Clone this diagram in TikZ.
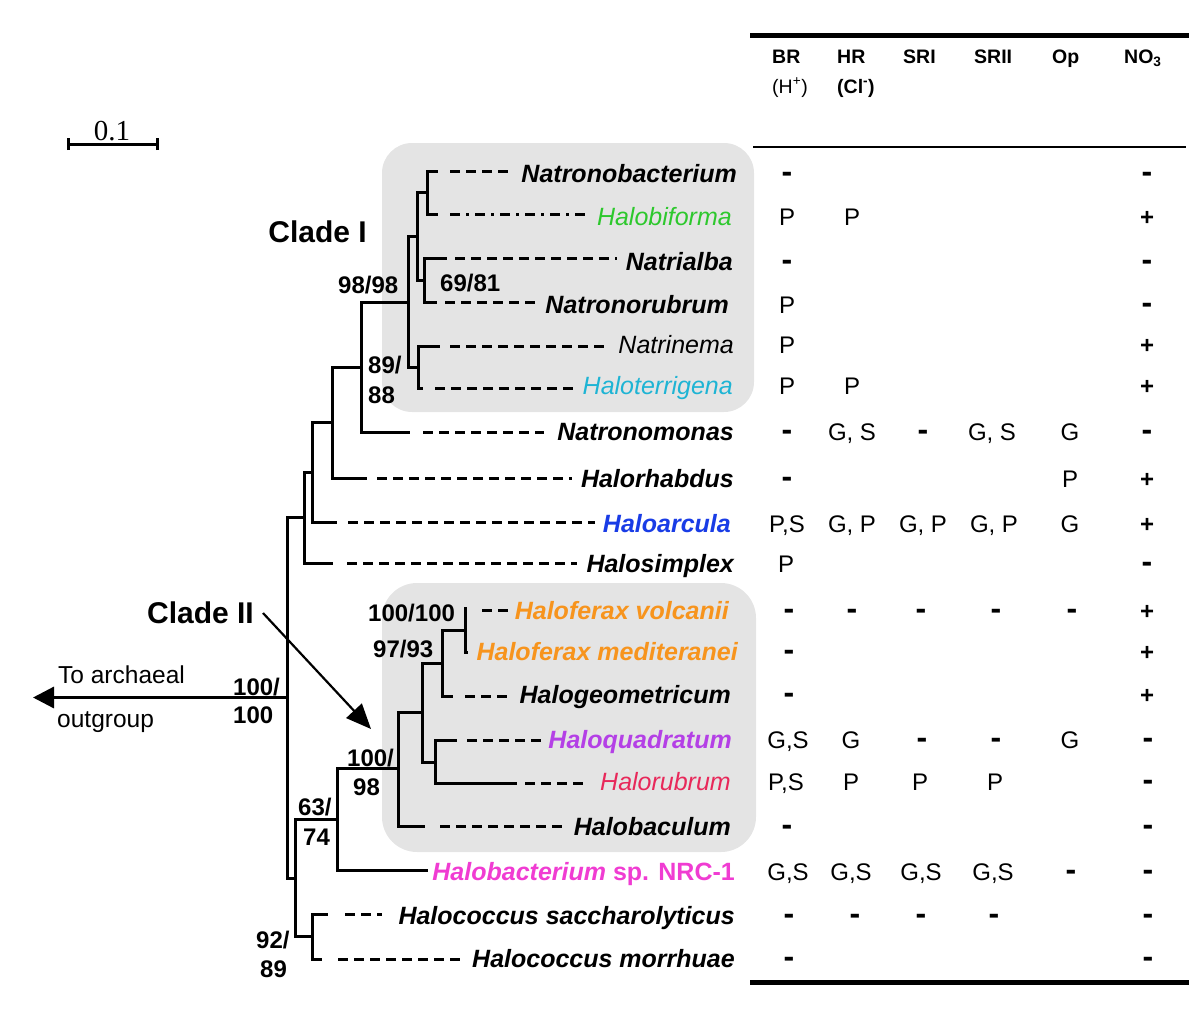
\documentclass[tikz,border=0pt]{standalone}
\usepackage{fontspec}
\setmainfont{Liberation Sans}
\newfontfamily\serifnum{Liberation Serif}
\usetikzlibrary{arrows.meta}
\definecolor{boxgray}{RGB}{228,228,228}
\definecolor{cgreen}{RGB}{45,200,45}
\definecolor{ccyan}{RGB}{30,180,212}
\definecolor{cblue}{RGB}{25,60,230}
\definecolor{corange}{RGB}{247,148,29}
\definecolor{cpurple}{RGB}{180,64,230}
\definecolor{cred}{RGB}{232,40,90}
\definecolor{cmagenta}{RGB}{240,60,210}
\tikzset{
  br/.style={line width=3pt, line join=miter},
  dsh/.style={line width=3pt, dash pattern=on 10pt off 6pt},
  dshdot/.style={line width=3pt, dash pattern=on 10pt off 6pt on 3pt off 6pt},
  taxb/.style={font=\fontsize{25}{30}\selectfont\bfseries\itshape, anchor=base east, inner sep=0pt},
  taxr/.style={font=\fontsize{25}{30}\selectfont\itshape, anchor=base east, inner sep=0pt},
  cell/.style={font=\fontsize{24}{28}\selectfont, anchor=base, inner sep=0pt},
  cellb/.style={font=\fontsize{24}{28}\selectfont\bfseries, anchor=base, inner sep=0pt},
  celld/.style={font=\fontsize{32}{36}\selectfont\bfseries, anchor=base, inner sep=0pt},
  supp/.style={font=\fontsize{24}{28}\selectfont\bfseries, anchor=base west, inner sep=0pt},
  hdr/.style={font=\fontsize{19.5}{23}\selectfont\bfseries, anchor=base west, inner sep=0pt},
  hdrr/.style={font=\fontsize{19.5}{23}\selectfont, anchor=base west, inner sep=0pt},
  cladelbl/.style={font=\fontsize{30}{36}\selectfont\bfseries, anchor=base east, inner sep=0pt},
  plain/.style={font=\fontsize{24.5}{29}\selectfont, anchor=base west, inner sep=0pt},
  rule/.style={line width=5pt},
  thinrule/.style={line width=2.5pt},
}
\begin{document}
\begin{tikzpicture}[x=1pt,y=-1pt]
\useasboundingbox (0,0) rectangle (1200,1021);

% clade boxes
\fill[boxgray, rounded corners=30pt] (382,143) rectangle (754,412);
\fill[boxgray, rounded corners=35pt] (382,583) rectangle (756,852);

% scale bar
\coordinate (sb0) at (68,144);
\coordinate (sb1) at (157,144);
\draw[line width=3pt] (sb0) -- (sb1);
\draw[line width=3pt] ([yshift=-6pt]sb0) -- ([yshift=6pt]sb0);
\draw[line width=3pt] ([yshift=-6pt]sb1) -- ([yshift=6pt]sb1);
\node[font=\serifnum\fontsize{29}{34}\selectfont, anchor=base, inner sep=0pt] (sbl) at (112,140) {0.1};

% internal nodes
\coordinate (N1) at (427,192.5);
\coordinate (N2) at (424,280);
\coordinate (N3) at (417,236.5);
\coordinate (N4) at (418,367.5);
\coordinate (N5) at (408,302);
\coordinate (N6) at (361,367);
\coordinate (N7) at (332,422);
\coordinate (N8) at (312,472);
\coordinate (N9) at (304,517);
\coordinate (N10) at (287,697.5);
\coordinate (N11) at (295,878);
\coordinate (N12) at (337,819);
\coordinate (N13) at (398,768);
\coordinate (N14) at (422,712);
\coordinate (N15) at (442,663);
\coordinate (N16) at (465,630);
\coordinate (N17) at (435,762);
\coordinate (N18) at (312,936);

% leaf branch ends (solid end s, dash start d, dash end e)
\coordinate (s1) at (438,171);  \coordinate (d1) at (450,171);  \coordinate (e1) at (510,171);
\coordinate (s2) at (438,214);  \coordinate (d2) at (450,214);  \coordinate (e2) at (586,214);
\coordinate (s3) at (447,258);  \coordinate (d3) at (455,258);  \coordinate (e3) at (617,258);
\coordinate (s4) at (437,302);  \coordinate (d4) at (445,302);  \coordinate (e4) at (538,302);
\coordinate (s5) at (440,346);  \coordinate (d5) at (450,346);  \coordinate (e5) at (610,346);
\coordinate (s6) at (423,388);  \coordinate (d6) at (435,388);  \coordinate (e6) at (575,388);
\coordinate (s7) at (410,432);  \coordinate (d7) at (423,432);  \coordinate (e7) at (544,432);
\coordinate (s8) at (367,478);  \coordinate (d8) at (377,478);  \coordinate (e8) at (572,478);
\coordinate (s9) at (337,522);  \coordinate (d9) at (348,522);  \coordinate (e9) at (595,522);
\coordinate (s10) at (333,563); \coordinate (d10) at (347,563); \coordinate (e10) at (577,563);
\coordinate (s11) at (467,608); \coordinate (d11) at (482,610); \coordinate (e11) at (508,610);
\coordinate (s12) at (468,652);
\coordinate (s13) at (453,696); \coordinate (d13) at (465,696); \coordinate (e13) at (507,696);
\coordinate (s14) at (457,740); \coordinate (d14) at (467,740); \coordinate (e14) at (547,740);
\coordinate (s15) at (517,783); \coordinate (d15) at (525,783); \coordinate (e15) at (585,783);
\coordinate (s16) at (425,826); \coordinate (d16) at (440,826); \coordinate (e16) at (563,826);
\coordinate (s17) at (428,870);
\coordinate (s18) at (328,914); \coordinate (d18) at (345,914); \coordinate (e18) at (382,914);
\coordinate (s19) at (322,959); \coordinate (d19) at (338,959); \coordinate (e19) at (463,959);

% tree branches
\draw[br] (N1) |- (s1);  \draw[br] (N1) |- (s2);
\draw[br] (N2) |- (s3);  \draw[br] (N2) |- (s4);
\draw[br] (N3) |- (N1);  \draw[br] (N3) |- (N2);
\draw[br] (N4) |- (s5);  \draw[br] (N4) |- (s6);
\draw[br] (N5) |- (N3);  \draw[br] (N5) |- (N4);
\draw[br] (N6) |- (N5);  \draw[br] (N6) |- (s7);
\draw[br] (N7) |- (N6);  \draw[br] (N7) |- (s8);
\draw[br] (N8) |- (N7);  \draw[br] (N8) |- (s9);
\draw[br] (N9) |- (N8);  \draw[br] (N9) |- (s10);
\draw[br] (N10) |- (N9); \draw[br] (N10) |- (N11);
\draw[br] (N11) |- (N12); \draw[br] (N11) |- (N18);
\draw[br] (N12) |- (N13); \draw[br] (N12) |- (s17);
\draw[br] (N13) |- (N14); \draw[br] (N13) |- (s16);
\draw[br] (N14) |- (N15); \draw[br] (N14) |- (N17);
\draw[br] (N15) |- (N16); \draw[br] (N15) |- (s13);
\draw[br] (N16) |- (s11); \draw[br] (N16) |- (s12);
\draw[br] (N17) |- (s14); \draw[br] (N17) |- (s15);
\draw[br] (N18) |- (s18); \draw[br] (N18) |- (s19);

% dashed extensions
\draw[dsh] (d1) -- (e1);
\draw[dshdot] (d2) -- (e2);
\draw[dsh] (d3) -- (e3);
\draw[dsh] (d4) -- (e4);
\draw[dsh] (d5) -- (e5);
\draw[dsh] (d6) -- (e6);
\draw[dsh] (d7) -- (e7);
\draw[dsh] (d8) -- (e8);
\draw[dsh] (d9) -- (e9);
\draw[dsh] (d10) -- (e10);
\draw[dsh] (d11) -- (e11);
\draw[dsh] (d13) -- (e13);
\draw[dsh] (d14) -- (e14);
\draw[dsh] (d15) -- (e15);
\draw[dsh] (d16) -- (e16);
\draw[dsh] (d18) -- (e18);
\draw[dsh] (d19) -- (e19);

% outgroup arrow
\coordinate (outg) at (33,697.5);
\draw[line width=3.2pt, -{Triangle[length=21pt,width=21pt]}] (N10) -- (outg);
\node[plain] (og1) at (58,683) {To archaeal};
\node[plain] (og2) at (57,727) {outgroup};

% clade labels
\node[cladelbl] (cl1) at (367,242) {Clade I};
\node[cladelbl] (cl2) at (254,623) {Clade II};
\coordinate (a2s) at (263,613);
\coordinate (a2e) at (371,729);
\draw[line width=2.2pt, -{Triangle[length=25pt,width=21pt]}] (a2s) -- (a2e);

% support values
\node[supp] (sv1) at (338,293) {98/98};
\node[supp] (sv2) at (440,291) {69/81};
\node[supp] (sv3) at (368,373) {89/};
\node[supp] (sv4) at (368,403) {88};
\node[supp] (sv5) at (368,621) {100/100};
\node[supp] (sv6) at (373,657) {97/93};
\node[supp] (sv7) at (347,766) {100/};
\node[supp] (sv8) at (353,795) {98};
\node[supp] (sv9) at (298,815) {63/};
\node[supp] (sv10) at (303,845) {74};
\node[supp] (sv11) at (256,948) {92/};
\node[supp] (sv12) at (260,977) {89};
\node[supp] (sv13) at (233,695) {100/};
\node[supp] (sv14) at (233,723) {100};

% taxa
\node[taxb] (t1) at (737,182) {Natronobacterium};
\node[taxr, text=cgreen] (t2) at (732,225) {Halobiforma};
\node[taxb] (t3) at (733,270) {Natrialba};
\node[taxb] (t4) at (729,313) {Natronorubrum};
\node[taxr] (t5) at (734,353) {Natrinema};
\node[taxr, text=ccyan] (t6) at (733,394) {Haloterrigena};
\node[taxb] (t7) at (734,440) {Natronomonas};
\node[taxb] (t8) at (734,487) {Halorhabdus};
\node[taxb, text=cblue] (t9) at (731,532) {Haloarcula};
\node[taxb] (t10) at (734,572) {Halosimplex};
\node[taxb, text=corange] (t11) at (729,619) {Haloferax volcanii};
\node[taxb, text=corange] (t12) at (738,660) {Haloferax mediteranei};
\node[taxb] (t13) at (731,703) {Halogeometricum};
\node[taxb, text=cpurple] (t14) at (732,748) {Haloquadratum};
\node[taxr, text=cred] (t15) at (731,790) {Halorubrum};
\node[taxb] (t16) at (731,835) {Halobaculum};
\node[taxb, text=cmagenta] (t17) at (735,880) {Halobacterium\/ {\upshape sp. NRC-1}};
\node[taxb] (t18) at (735,924) {Halococcus saccharolyticus};
\node[taxb] (t19) at (735,967) {Halococcus morrhuae};

% table rules
\coordinate (r1a) at (750,35);  \coordinate (r1b) at (1189,35);
\coordinate (r2a) at (753,147); \coordinate (r2b) at (1186,147);
\coordinate (r3a) at (750,982); \coordinate (r3b) at (1189,982);
\draw[rule] (r1a) -- (r1b);
\draw[thinrule] (r2a) -- (r2b);
\draw[rule] (r3a) -- (r3b);

% header
\node[hdr] (hBR) at (772,63) {BR};
\node[hdrr] (hBR2) at (772,93) {(H\textsuperscript{+})};
\node[hdr] (hHR) at (837,63) {HR};
\node[hdr] (hHR2) at (837,93) {(Cl\textsuperscript{-})};
\node[hdr] (hSRI) at (903,63) {SRI};
\node[hdr] (hSRII) at (974,63) {SRII};
\node[hdr] (hOp) at (1052,63) {Op};
\node[hdr] (hNO) at (1124,63) {NO\textsubscript{3}};

% table cells (columns: BR 787, HR 852, SRI 921, SRII 994, Op 1070, NO3 1147)
% row 1
\node[celld] (c1a) at (787,182) {-};
\node[celld] (c1f) at (1147,182) {-};
% row 2
\node[cell] (c2a) at (787,225) {P};
\node[cell] (c2b) at (852,225) {P};
\node[cellb] (c2f) at (1147,225) {+};
% row 3
\node[celld] (c3a) at (787,270) {-};
\node[celld] (c3f) at (1147,270) {-};
% row 4
\node[cell] (c4a) at (787,313) {P};
\node[celld] (c4f) at (1147,313) {-};
% row 5
\node[cell] (c5a) at (787,353) {P};
\node[cellb] (c5f) at (1147,353) {+};
% row 6
\node[cell] (c6a) at (787,394) {P};
\node[cell] (c6b) at (852,394) {P};
\node[cellb] (c6f) at (1147,394) {+};
% row 7
\node[celld] (c7a) at (787,440) {-};
\node[cell] (c7b) at (852,440) {G, S};
\node[celld] (c7c) at (923,440) {-};
\node[cell] (c7d) at (992,440) {G, S};
\node[cell] (c7e) at (1070,440) {G};
\node[celld] (c7f) at (1147,440) {-};
% row 8
\node[celld] (c8a) at (787,487) {-};
\node[cell] (c8e) at (1070,487) {P};
\node[cellb] (c8f) at (1147,487) {+};
% row 9
\node[cell] (c9a) at (787,532) {P,S};
\node[cell] (c9b) at (852,532) {G, P};
\node[cell] (c9c) at (923,532) {G, P};
\node[cell] (c9d) at (994,532) {G, P};
\node[cell] (c9e) at (1070,532) {G};
\node[cellb] (c9f) at (1147,532) {+};
% row 10
\node[cell] (c10a) at (786,572) {P};
\node[celld] (c10f) at (1147,572) {-};
% row 11
\node[celld] (c11a) at (789,619) {-};
\node[celld] (c11b) at (852,619) {-};
\node[celld] (c11c) at (921,619) {-};
\node[celld] (c11d) at (996,619) {-};
\node[celld] (c11e) at (1072,619) {-};
\node[cellb] (c11f) at (1147,619) {+};
% row 12
\node[celld] (c12a) at (789,660) {-};
\node[cellb] (c12f) at (1147,660) {+};
% row 13
\node[celld] (c13a) at (789,703) {-};
\node[cellb] (c13f) at (1147,703) {+};
% row 14
\node[cell] (c14a) at (788,748) {G,S};
\node[cell] (c14b) at (851,748) {G};
\node[celld] (c14c) at (922,748) {-};
\node[celld] (c14d) at (996,748) {-};
\node[cell] (c14e) at (1070,748) {G};
\node[celld] (c14f) at (1148,748) {-};
% row 15
\node[cell] (c15a) at (786,790) {P,S};
\node[cell] (c15b) at (851,790) {P};
\node[cell] (c15c) at (920,790) {P};
\node[cell] (c15d) at (995,790) {P};
\node[celld] (c15f) at (1148,790) {-};
% row 16
\node[celld] (c16a) at (787,835) {-};
\node[celld] (c16f) at (1148,835) {-};
% row 17
\node[cell] (c17a) at (788,880) {G,S};
\node[cell] (c17b) at (851,880) {G,S};
\node[cell] (c17c) at (921,880) {G,S};
\node[cell] (c17d) at (993,880) {G,S};
\node[celld] (c17e) at (1071,880) {-};
\node[celld] (c17f) at (1148,880) {-};
% row 18
\node[celld] (c18a) at (789,924) {-};
\node[celld] (c18b) at (855,924) {-};
\node[celld] (c18c) at (921,924) {-};
\node[celld] (c18d) at (994,924) {-};
\node[celld] (c18f) at (1148,924) {-};
% row 19
\node[celld] (c19a) at (789,967) {-};
\node[celld] (c19f) at (1148,967) {-};
\end{tikzpicture}
\end{document}
